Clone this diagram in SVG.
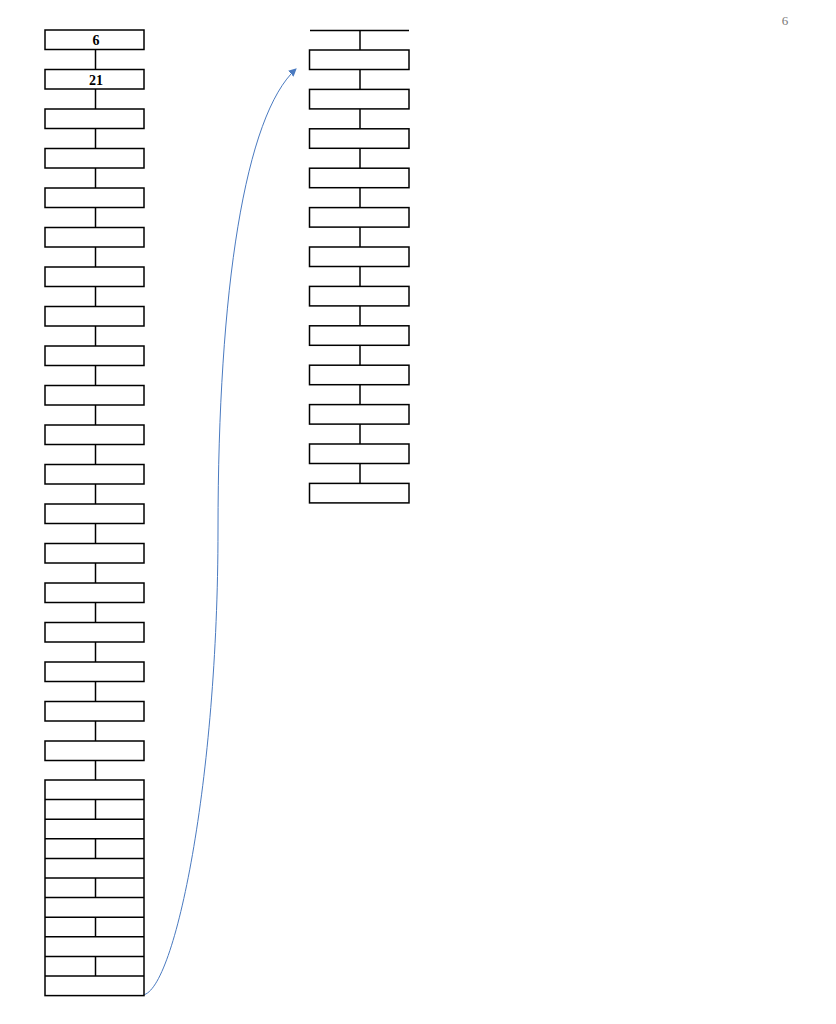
<svg xmlns="http://www.w3.org/2000/svg" width="836" height="1024" viewBox="0 0 836 1024">
<style>
.b{fill:#fff;stroke:#000;stroke-width:1.5}
.c{stroke:#000;stroke-width:1.5;fill:none}
.t{font-family:"Liberation Serif",serif;font-weight:bold;font-size:14px;text-anchor:middle}
.curve{fill:none;stroke:#4A7AC0;stroke-width:1}
</style>
<defs>
<marker id="ah" markerWidth="8" markerHeight="8" refX="7" refY="4" orient="auto" markerUnits="userSpaceOnUse">
<path d="M0,0 L8,4 L0,8 Z" fill="#4A7AC0"/>
</marker>
</defs>
<rect width="836" height="1024" fill="#fff"/>
<text x="785" y="25" font-family="Liberation Serif,serif" font-size="13" fill="#777" text-anchor="middle">6</text>
<g id="connectors">
<line class="c" x1="95.5" y1="49.5" x2="95.5" y2="69.5"/>
<line class="c" x1="95.5" y1="89" x2="95.5" y2="109"/>
<line class="c" x1="95.5" y1="128.5" x2="95.5" y2="148.5"/>
<line class="c" x1="95.5" y1="168" x2="95.5" y2="188"/>
<line class="c" x1="95.5" y1="207.5" x2="95.5" y2="227.5"/>
<line class="c" x1="95.5" y1="247" x2="95.5" y2="267"/>
<line class="c" x1="95.5" y1="286.5" x2="95.5" y2="306.5"/>
<line class="c" x1="95.5" y1="326" x2="95.5" y2="346"/>
<line class="c" x1="95.5" y1="365.5" x2="95.5" y2="385.5"/>
<line class="c" x1="95.5" y1="405" x2="95.5" y2="425"/>
<line class="c" x1="95.5" y1="444.5" x2="95.5" y2="464.5"/>
<line class="c" x1="95.5" y1="484" x2="95.5" y2="504"/>
<line class="c" x1="95.5" y1="523.5" x2="95.5" y2="543.5"/>
<line class="c" x1="95.5" y1="563" x2="95.5" y2="583"/>
<line class="c" x1="95.5" y1="602.5" x2="95.5" y2="622.5"/>
<line class="c" x1="95.5" y1="642" x2="95.5" y2="662"/>
<line class="c" x1="95.5" y1="681.5" x2="95.5" y2="701.5"/>
<line class="c" x1="95.5" y1="721" x2="95.5" y2="741"/>
<line class="c" x1="95.5" y1="760.5" x2="95.5" y2="780"/>
<line class="c" x1="310" y1="30.5" x2="409" y2="30.5"/>
<line class="c" x1="360" y1="30.5" x2="360" y2="50"/>
<line class="c" x1="360" y1="69.5" x2="360" y2="89.4"/>
<line class="c" x1="360" y1="108.9" x2="360" y2="128.8"/>
<line class="c" x1="360" y1="148.3" x2="360" y2="168.2"/>
<line class="c" x1="360" y1="187.7" x2="360" y2="207.6"/>
<line class="c" x1="360" y1="227.1" x2="360" y2="247"/>
<line class="c" x1="360" y1="266.5" x2="360" y2="286.4"/>
<line class="c" x1="360" y1="305.9" x2="360" y2="325.8"/>
<line class="c" x1="360" y1="345.3" x2="360" y2="365.2"/>
<line class="c" x1="360" y1="384.7" x2="360" y2="404.6"/>
<line class="c" x1="360" y1="424.1" x2="360" y2="444"/>
<line class="c" x1="360" y1="463.5" x2="360" y2="483.4"/>
<path class="curve" d="M143,995 C175,990 218,780 218,530 C218,290 245,115 296,69" marker-end="url(#ah)"/>
</g>
<g id="left1"><rect class="b" x="45" y="30" width="99" height="19.5"/><text class="t" x="96" y="45">6</text></g>
<g id="left2"><rect class="b" x="45" y="69.5" width="99" height="19.5"/><text class="t" x="96" y="84.5">21</text></g>
<g id="left3"><rect class="b" x="45" y="109" width="99" height="19.5"/></g>
<g id="left4"><rect class="b" x="45" y="148.5" width="99" height="19.5"/></g>
<g id="left5"><rect class="b" x="45" y="188" width="99" height="19.5"/></g>
<g id="left6"><rect class="b" x="45" y="227.5" width="99" height="19.5"/></g>
<g id="left7"><rect class="b" x="45" y="267" width="99" height="19.5"/></g>
<g id="left8"><rect class="b" x="45" y="306.5" width="99" height="19.5"/></g>
<g id="left9"><rect class="b" x="45" y="346" width="99" height="19.5"/></g>
<g id="left10"><rect class="b" x="45" y="385.5" width="99" height="19.5"/></g>
<g id="left11"><rect class="b" x="45" y="425" width="99" height="19.5"/></g>
<g id="left12"><rect class="b" x="45" y="464.5" width="99" height="19.5"/></g>
<g id="left13"><rect class="b" x="45" y="504" width="99" height="19.5"/></g>
<g id="left14"><rect class="b" x="45" y="543.5" width="99" height="19.5"/></g>
<g id="left15"><rect class="b" x="45" y="583" width="99" height="19.5"/></g>
<g id="left16"><rect class="b" x="45" y="622.5" width="99" height="19.5"/></g>
<g id="left17"><rect class="b" x="45" y="662" width="99" height="19.5"/></g>
<g id="left18"><rect class="b" x="45" y="701.5" width="99" height="19.5"/></g>
<g id="left19"><rect class="b" x="45" y="741" width="99" height="19.5"/></g>
<g id="stack">
<rect class="b" x="45" y="780" width="99" height="215.6"/>
<line class="c" x1="45" y1="799.6" x2="144" y2="799.6"/>
<line class="c" x1="45" y1="819.2" x2="144" y2="819.2"/>
<line class="c" x1="45" y1="838.8" x2="144" y2="838.8"/>
<line class="c" x1="45" y1="858.4" x2="144" y2="858.4"/>
<line class="c" x1="45" y1="878" x2="144" y2="878"/>
<line class="c" x1="45" y1="897.6" x2="144" y2="897.6"/>
<line class="c" x1="45" y1="917.2" x2="144" y2="917.2"/>
<line class="c" x1="45" y1="936.8" x2="144" y2="936.8"/>
<line class="c" x1="45" y1="956.4" x2="144" y2="956.4"/>
<line class="c" x1="45" y1="976" x2="144" y2="976"/>
<line class="c" x1="95.5" y1="799.6" x2="95.5" y2="819.2"/>
<line class="c" x1="95.5" y1="838.8" x2="95.5" y2="858.4"/>
<line class="c" x1="95.5" y1="878" x2="95.5" y2="897.6"/>
<line class="c" x1="95.5" y1="917.2" x2="95.5" y2="936.8"/>
<line class="c" x1="95.5" y1="956.4" x2="95.5" y2="976"/>
</g>
<g id="right1"><rect class="b" x="309.5" y="50" width="99.5" height="19.5"/></g>
<g id="right2"><rect class="b" x="309.5" y="89.4" width="99.5" height="19.5"/></g>
<g id="right3"><rect class="b" x="309.5" y="128.8" width="99.5" height="19.5"/></g>
<g id="right4"><rect class="b" x="309.5" y="168.2" width="99.5" height="19.5"/></g>
<g id="right5"><rect class="b" x="309.5" y="207.6" width="99.5" height="19.5"/></g>
<g id="right6"><rect class="b" x="309.5" y="247" width="99.5" height="19.5"/></g>
<g id="right7"><rect class="b" x="309.5" y="286.4" width="99.5" height="19.5"/></g>
<g id="right8"><rect class="b" x="309.5" y="325.8" width="99.5" height="19.5"/></g>
<g id="right9"><rect class="b" x="309.5" y="365.2" width="99.5" height="19.5"/></g>
<g id="right10"><rect class="b" x="309.5" y="404.6" width="99.5" height="19.5"/></g>
<g id="right11"><rect class="b" x="309.5" y="444" width="99.5" height="19.5"/></g>
<g id="right12"><rect class="b" x="309.5" y="483.4" width="99.5" height="19.5"/></g>
</svg>
